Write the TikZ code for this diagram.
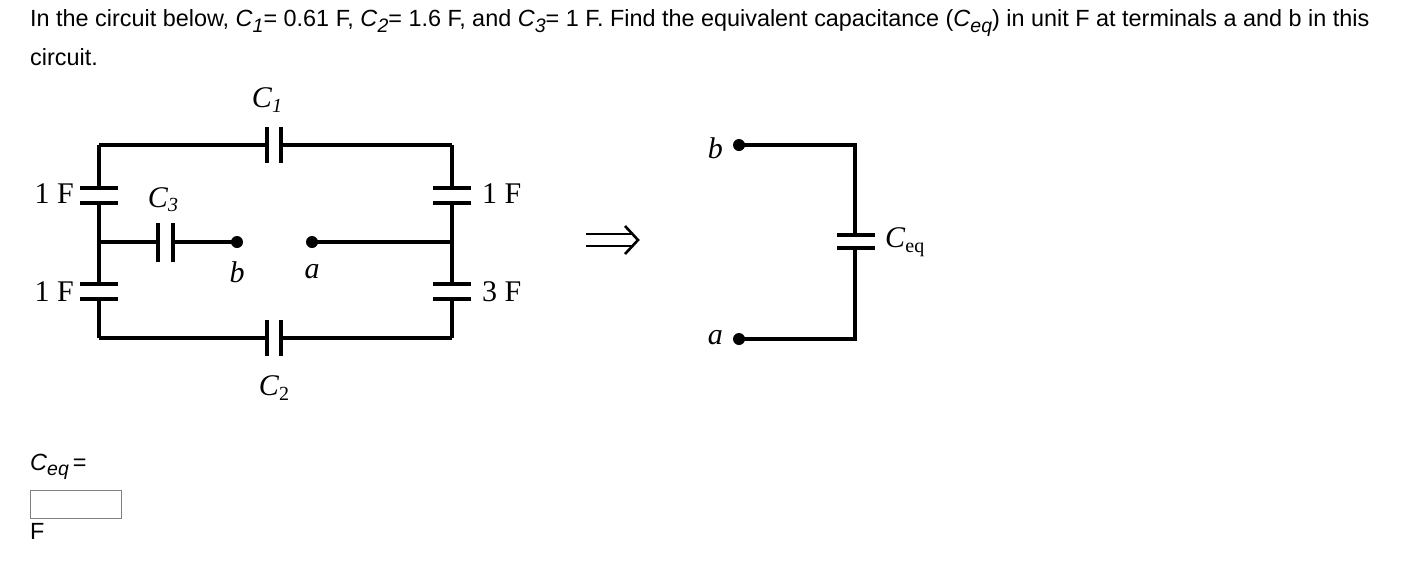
\documentclass[tikz,border=0pt]{standalone}
\usepackage{fontspec}
\setmainfont{Liberation Serif}
\newfontfamily\qsans{Liberation Sans}
\newcommand{\qsub}[1]{\raisebox{-0.45ex}{\fontsize{19.5}{20}\selectfont\textit{#1}}}
\begin{document}
\begin{tikzpicture}[x=1pt,y=-1pt,
  w/.style={line width=3.2pt},
  plate/.style={line width=3.4pt},
  lab/.style={font=\fontsize{30}{32}\selectfont, inner sep=0pt},
  q/.style={font=\qsans\fontsize{23.4}{26}\selectfont, inner sep=0pt, anchor=west},
  dot/.style={circle, fill=black, inner sep=0pt, minimum size=12pt},
  arrw/.style={line width=2.6pt}]
\useasboundingbox (0,0) rectangle (1406,566);
% question
\node[q] (t1) at (30,23) {In the circuit below, \textit{C}\qsub{1}= 0.61 F, \textit{C}\qsub{2}= 1.6 F, and \textit{C}\qsub{3}= 1 F. Find the equivalent capacitance (\textit{C}\qsub{eq}) in unit F at terminals a and b in this};
\node[q] (t2) at (30,57) {circuit.};
% circuit coordinates
\coordinate (tl) at (99,145); \coordinate (tr) at (452,145);
\coordinate (bl) at (99,338); \coordinate (br) at (452,338);
\coordinate (ml) at (99,242); \coordinate (mr) at (452,242);
% top C1
\draw[w] (tl) -- (267,145) coordinate (c1a); \draw[w] (281,145) coordinate (c1b) -- (tr);
\draw[plate] (267,127) -- (267,163); \draw[plate] (281,127) -- (281,163);
% bottom C2
\draw[w] (bl) -- (267,338) coordinate (c2a); \draw[w] (281,338) coordinate (c2b) -- (br);
\draw[plate] (267,320) -- (267,356); \draw[plate] (281,320) -- (281,356);
% left side
\draw[w] (tl) -- (99,188); \draw[plate] (80,188) -- (118,188); \draw[plate] (80,203) -- (118,203);
\draw[w] (99,203) -- (99,284); \draw[plate] (80,284) -- (118,284); \draw[plate] (80,299) -- (118,299);
\draw[w] (99,299) -- (bl);
% right side
\draw[w] (tr) -- (452,188); \draw[plate] (433,188) -- (471,188); \draw[plate] (433,203) -- (471,203);
\draw[w] (452,203) -- (452,284); \draw[plate] (433,284) -- (471,284); \draw[plate] (433,299) -- (471,299);
\draw[w] (452,299) -- (br);
% C3 and terminals
\node[dot] (b1) at (237,242) {};
\node[dot] (a1) at (312,242) {};
\draw[w] (ml) -- (158,242); \draw[plate] (158,223) -- (158,262); \draw[plate] (173,223) -- (173,262);
\draw[w] (173,242) -- (b1.center);
\draw[w] (a1.center) -- (mr);
% labels
\node[lab] (lc1) at (267,100) {\textit{C}\raisebox{-0.3ex}{\fontsize{20}{22}\selectfont\textit{1}}};
\node[lab] (lc2) at (274,388) {\textit{C}\raisebox{-0.3ex}{\fontsize{20}{22}\selectfont 2}};
\node[lab] (lc3) at (163,200) {\textit{C}\raisebox{-0.3ex}{\fontsize{20}{22}\selectfont\textit{3}}};
\node[lab] (lb) at (237,272) {\textit{b}};
\node[lab] (la) at (312,272) {\textit{a}};
\node[lab,anchor=east] (l1) at (74,194) {1 F};
\node[lab,anchor=east] (l2) at (74,292) {1 F};
\node[lab,anchor=west] (l3) at (482,194) {1 F};
\node[lab,anchor=west] (l4) at (482,292) {3 F};
% arrow
\draw[arrw] (586,234) -- (632,234);
\draw[arrw] (586,246) -- (632,246);
\draw[arrw, line join=miter] (625,226) -- (638,240) -- (625,254);
% equivalent
\node[dot] (b2) at (739,145) {};
\node[dot] (a2) at (739,339) {};
\draw[w] (b2.center) -- (855,145) -- (855,235);
\draw[w] (a2.center) -- (855,339) -- (855,248);
\draw[plate] (837,235) -- (875,235); \draw[plate] (837,248) -- (875,248);
\node[lab,anchor=east] (lb2) at (723,148) {\textit{b}};
\node[lab,anchor=east] (la2) at (723,338) {\textit{a}};
\node[lab,anchor=west] (lceq) at (885,242) {\textit{C}\raisebox{-0.4ex}{\fontsize{20}{22}\selectfont eq}};
% answer area
\node[q] (ceq) at (30,467) {\textit{C}\qsub{eq}\,=};
\draw[gray, line width=1pt] (30,490) rectangle (121,518);
\node[q] (f) at (30,531) {F};
\end{tikzpicture}
\end{document}
